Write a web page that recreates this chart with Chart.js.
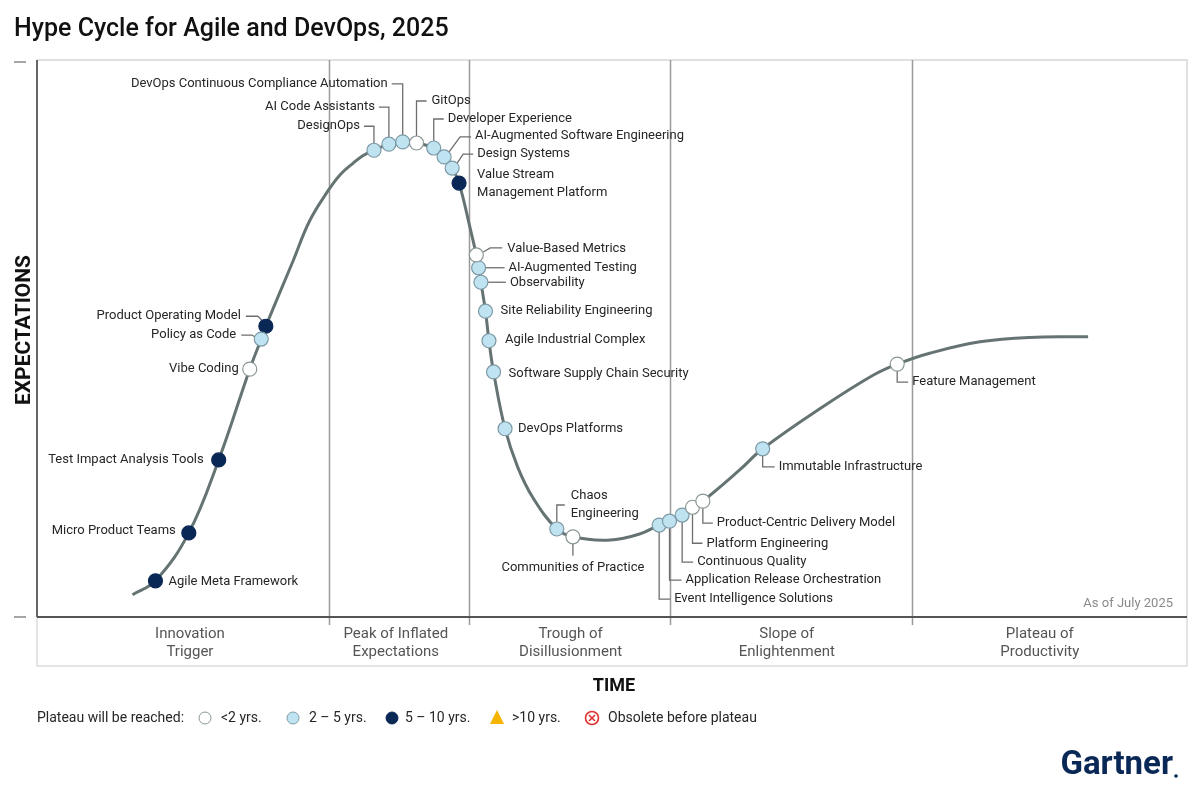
<!DOCTYPE html>
<html>
<head>
<meta charset="utf-8">
<script src="https://cdn.jsdelivr.net/npm/chart.js@4.4.1/dist/chart.umd.min.js"></script>
<style>
  html, body { margin: 0; background: #fff; }
  canvas { display: block; }
</style>
</head>
<body>
<canvas id="hypeChart" width="1200" height="791"></canvas>
<script>
// Phases of the hype cycle (time axis 0-100)
const phaseNames = [['Innovation', 'Trigger'], ['Peak of Inflated', 'Expectations'], ['Trough of', 'Disillusionment'], ['Slope of', 'Enlightenment'], ['Plateau of', 'Productivity']];
const phaseEdges = [25.4, 37.6, 55.0, 76.1];
const phaseLabelTime = [13.3, 31.2, 46.4, 65.2, 87.2];

// The curve itself (time, expectations)
const curveTime = [8.3, 10.3, 13.2, 15.8, 18.5, 19.5, 19.9, 22.3, 23.7, 25.3, 26.4, 27.5, 28.4, 29.3, 30.6, 31.8, 33.0, 34.5, 35.4, 36.1, 36.7, 37.7, 38.2, 38.4, 38.6, 39.0, 39.3, 39.7, 40.7, 41.8, 43.1, 45.2, 46.6, 49.6, 52.4, 54.1, 55.0, 56.1, 57.0, 57.9, 61.1, 63.1, 68.3, 72.7, 74.8, 77.7, 82.0, 86.3, 91.4];
const curveExpect = [4.0, 6.5, 15.1, 28.2, 44.5, 49.9, 52.2, 64.1, 71.1, 76.5, 79.5, 81.5, 82.9, 83.8, 84.9, 85.3, 85.1, 84.2, 82.6, 80.6, 77.9, 69.5, 65.0, 62.7, 60.1, 54.9, 49.6, 44.0, 33.8, 26.9, 21.5, 15.8, 14.4, 13.8, 14.9, 16.5, 17.2, 18.3, 19.7, 20.8, 26.4, 30.2, 37.7, 43.4, 45.4, 47.4, 49.4, 50.2, 50.3];

// Technologies on the curve
const itemNames = [
  'Agile Meta Framework', 'Micro Product Teams', 'Test Impact Analysis Tools', 'Vibe Coding', 'Policy as Code',
  'Product Operating Model', 'DesignOps', 'AI Code Assistants', 'DevOps Continuous Compliance Automation', 'GitOps',
  'Developer Experience', 'AI-Augmented Software Engineering', 'Design Systems', 'Value Stream|Management Platform', 'Value-Based Metrics',
  'AI-Augmented Testing', 'Observability', 'Site Reliability Engineering', 'Agile Industrial Complex', 'Software Supply Chain Security',
  'DevOps Platforms', 'Chaos|Engineering', 'Communities of Practice', 'Event Intelligence Solutions', 'Application Release Orchestration',
  'Continuous Quality', 'Platform Engineering', 'Product-Centric Delivery Model', 'Immutable Infrastructure', 'Feature Management'
];
const itemTime = [10.3, 13.2, 15.8, 18.5, 19.5, 19.9, 29.3, 30.6, 31.8, 33.0, 34.5, 35.4, 36.1, 36.7, 38.2, 38.4, 38.6, 39.0, 39.3, 39.7, 40.7, 45.2, 46.6, 54.1, 55.0, 56.1, 57.0, 57.9, 63.1, 74.8];
const itemExpect = [6.5, 15.1, 28.2, 44.5, 49.9, 52.2, 83.8, 84.9, 85.3, 85.1, 84.2, 82.6, 80.6, 77.9, 65.0, 62.7, 60.1, 54.9, 49.6, 44.0, 33.8, 15.8, 14.4, 16.5, 17.2, 18.3, 19.7, 20.8, 30.2, 45.4];
// years to plateau: 'lt2', 'mid' (2-5), 'long' (5-10)
const itemPlateau = ['long', 'long', 'long', 'lt2', 'mid', 'long', 'mid', 'mid', 'mid', 'lt2', 'mid', 'mid', 'mid', 'long', 'lt2', 'mid', 'mid', 'mid', 'mid', 'mid', 'mid', 'mid', 'lt2', 'mid', 'mid', 'mid', 'lt2', 'lt2', 'mid', 'lt2'];

// label placement in pixels relative to the marker (layout only)
const labelLayout = [
  { dx: 13, dy: 1, align: 'left' },
  { dx: -13, dy: -2, align: 'right' },
  { dx: -15, dy: 0, align: 'right' },
  { dx: -11, dy: 0, align: 'right' },
  { dx: -25, dy: -4, align: 'right', lead: [[-20, -4], [-9, -4], [-5, -1]] },
  { dx: -25, dy: -10, align: 'right', lead: [[-20, -10], [-8, -10], [-4, -6]] },
  { dx: -14, dy: -24, align: 'right', lead: [[-10, -24], [0, -24], [0, -7]] },
  { dx: -14, dy: -37, align: 'right', lead: [[-10, -37], [0, -37], [0, -7]] },
  { dx: -15, dy: -58, align: 'right', lead: [[-11, -58], [0, -58], [0, -7]] },
  { dx: 15, dy: -42, align: 'left', lead: [[0, -7], [0, -42], [10, -42]] },
  { dx: 14, dy: -29, align: 'left', lead: [[0, -7], [0, -29], [10, -29]] },
  { dx: 31, dy: -21, align: 'left', lead: [[5, -5], [16, -20], [27, -20]] },
  { dx: 25, dy: -14, align: 'left', lead: [[5, -5], [11, -14], [21, -14]] },
  { dx: 18, dy: -8, align: 'left' },
  { dx: 31, dy: -6, align: 'left', lead: [[7, -3], [14, -7], [26, -7]] },
  { dx: 30, dy: 0, align: 'left', lead: [[7, 0], [26, 0]] },
  { dx: 29, dy: 1, align: 'left', lead: [[7, 0], [25, 0]] },
  { dx: 15, dy: 0, align: 'left' },
  { dx: 16, dy: -1, align: 'left' },
  { dx: 15, dy: 2, align: 'left' },
  { dx: 13, dy: 0, align: 'left' },
  { dx: 14, dy: -33, align: 'left', lead: [[0, -7], [0, -24], [8, -24]] },
  { dx: 0, dy: 31, align: 'center', lead: [[0, 7], [0, 19]] },
  { dx: 15, dy: 74, align: 'left', lead: [[0, 7], [0, 74], [11, 74]] },
  { dx: 16, dy: 59, align: 'left', lead: [[0, 7], [0, 59], [12, 59]] },
  { dx: 15, dy: 47, align: 'left', lead: [[0, 7], [0, 47], [11, 47]] },
  { dx: 14, dy: 36, align: 'left', lead: [[0, 7], [0, 36], [10, 36]] },
  { dx: 14, dy: 22, align: 'left', lead: [[0, 7], [0, 22], [10, 22]] },
  { dx: 16, dy: 18, align: 'left', lead: [[0, 7], [0, 18], [12, 18]] },
  { dx: 15, dy: 18, align: 'left', lead: [[0, 7], [0, 18], [11, 18]] }
];

const plateauStyle = {
  lt2: { fill: '#ffffff', border: '#8a9696', label: '<2 yrs.' },
  mid: { fill: '#bfe3f1', border: '#7d9aa6', label: '2 \u2013 5 yrs.' },
  long: { fill: '#0a2856', border: '#0a2856', label: '5 \u2013 10 yrs.' }
};

const FONT = 'Roboto, "Noto Sans", sans-serif';

function markerData(kind) {
  const pts = [];
  itemNames.forEach((n, i) => {
    if (itemPlateau[i] === kind) pts.push({ x: itemTime[i], y: itemExpect[i], idx: i });
  });
  return pts;
}

const hypeDecor = {
  id: 'hypeDecor',
  beforeDatasetsDraw(chart) {
    const { ctx, chartArea: a, scales: { x, y } } = chart;
    ctx.save();
    // frame
    ctx.strokeStyle = '#d6d6d6';
    ctx.lineWidth = 1.5;
    ctx.beginPath();
    ctx.moveTo(a.left, a.top); ctx.lineTo(a.right, a.top); ctx.lineTo(a.right, a.bottom);
    ctx.stroke();
    // phase band below the plot
    ctx.strokeStyle = '#dcdcdc';
    ctx.strokeRect(a.left, a.bottom, a.right - a.left, 49);
    // phase dividers
    ctx.strokeStyle = '#9a9a9a';
    ctx.lineWidth = 1.5;
    phaseEdges.forEach(t => {
      const px = Math.round(x.getPixelForValue(t)) + 0.5;
      ctx.beginPath(); ctx.moveTo(px, a.top); ctx.lineTo(px, a.bottom + 8); ctx.stroke();
    });
    // left and bottom axis lines
    ctx.strokeStyle = '#333';
    ctx.lineWidth = 1.5;
    ctx.beginPath(); ctx.moveTo(a.left, a.top); ctx.lineTo(a.left, a.bottom); ctx.stroke();
    ctx.strokeStyle = '#555';
    ctx.lineWidth = 2;
    ctx.beginPath(); ctx.moveTo(a.left, a.bottom); ctx.lineTo(a.right, a.bottom); ctx.stroke();
    // little ticks at the left
    ctx.strokeStyle = '#888';
    ctx.lineWidth = 1.5;
    [a.top + 2, a.bottom].forEach(py => {
      ctx.beginPath(); ctx.moveTo(14, py); ctx.lineTo(26, py); ctx.stroke();
    });
    // leader lines
    ctx.strokeStyle = '#6e6e6e';
    ctx.lineWidth = 1.3;
    itemNames.forEach((n, i) => {
      const L = labelLayout[i];
      if (!L.lead) return;
      const px = x.getPixelForValue(itemTime[i]);
      const py = y.getPixelForValue(itemExpect[i]);
      ctx.beginPath();
      L.lead.forEach((p, k) => {
        const fx = px + p[0], fy = py + p[1];
        if (k === 0) ctx.moveTo(fx, fy); else ctx.lineTo(fx, fy);
      });
      ctx.stroke();
    });
    ctx.restore();
  },
  afterDatasetsDraw(chart) {
    const { ctx, chartArea: a, scales: { x, y } } = chart;
    ctx.save();
    // point labels
    ctx.font = '13px ' + FONT;
    ctx.fillStyle = '#262626';
    ctx.textBaseline = 'middle';
    itemNames.forEach((n, i) => {
      const L = labelLayout[i];
      const px = x.getPixelForValue(itemTime[i]);
      const py = y.getPixelForValue(itemExpect[i]);
      ctx.textAlign = L.align;
      n.split('|').forEach((line, k) => ctx.fillText(line, px + L.dx, py + L.dy + k * 18));
    });
    // as-of note
    ctx.font = '13px ' + FONT;
    ctx.fillStyle = '#8a8a8a';
    ctx.textAlign = 'right';
    ctx.fillText('As of July 2025', a.right - 14, a.bottom - 13);
    // phase labels
    ctx.font = '15px ' + FONT;
    ctx.fillStyle = '#555';
    ctx.textAlign = 'center';
    phaseNames.forEach((pn, i) => {
      const px = x.getPixelForValue(phaseLabelTime[i]);
      pn.forEach((line, k) => ctx.fillText(line, px, a.bottom + 17 + k * 18));
    });
    // axis titles
    ctx.fillStyle = '#111';
    ctx.font = 'bold 18px ' + FONT;
    ctx.fillText('TIME', (a.left + a.right) / 2 + 2, 686);
    ctx.save();
    ctx.translate(25, 330);
    ctx.rotate(-Math.PI / 2);
    ctx.font = 'bold 21px ' + FONT;
    ctx.fillText('EXPECTATIONS', 0, 0);
    ctx.restore();
    // title
    ctx.textAlign = 'left';
    ctx.font = '500 25px ' + FONT;
    ctx.fillStyle = '#111';
    ctx.fillText('Hype Cycle for Agile and DevOps, 2025', 14, 30);
    // legend
    const ly = 718;
    ctx.font = '14px ' + FONT;
    ctx.fillStyle = '#262626';
    ctx.fillText('Plateau will be reached:', 37, ly);
    const dot = (cx, s) => {
      ctx.beginPath(); ctx.arc(cx, ly, 6, 0, Math.PI * 2);
      ctx.fillStyle = s.fill; ctx.fill();
      ctx.strokeStyle = s.border; ctx.lineWidth = 1; ctx.stroke();
    };
    dot(205, plateauStyle.lt2);
    ctx.fillStyle = '#262626'; ctx.fillText(plateauStyle.lt2.label, 221, ly);
    dot(293, plateauStyle.mid);
    ctx.fillStyle = '#262626'; ctx.fillText(plateauStyle.mid.label, 309, ly);
    dot(392, plateauStyle.long);
    ctx.fillStyle = '#262626'; ctx.fillText(plateauStyle.long.label, 405, ly);
    ctx.beginPath(); ctx.moveTo(497, ly - 8); ctx.lineTo(504, ly + 6); ctx.lineTo(490, ly + 6); ctx.closePath();
    ctx.fillStyle = '#f4b400'; ctx.fill();
    ctx.fillStyle = '#262626'; ctx.fillText('>10 yrs.', 512, ly);
    ctx.beginPath(); ctx.arc(592, ly, 6.5, 0, Math.PI * 2);
    ctx.strokeStyle = '#e0312e'; ctx.lineWidth = 1.6; ctx.stroke();
    ctx.beginPath();
    ctx.moveTo(589, ly - 3); ctx.lineTo(595, ly + 3); ctx.moveTo(595, ly - 3); ctx.lineTo(589, ly + 3);
    ctx.stroke();
    ctx.fillStyle = '#262626'; ctx.fillText('Obsolete before plateau', 608, ly);
    // logo
    ctx.font = 'bold 33px ' + FONT;
    ctx.fillStyle = '#0a2856';
    ctx.textAlign = 'right';
    ctx.fillText('Gartner', 1173, 766);
    ctx.beginPath(); ctx.arc(1176, 776, 1.8, 0, Math.PI * 2); ctx.fill();
    ctx.restore();
  }
};

const ctx = document.getElementById('hypeChart').getContext('2d');
new Chart(ctx, {
  type: 'scatter',
  data: {
    datasets: [
      {
        type: 'line',
        label: 'Hype curve',
        data: curveTime.map((t, i) => ({ x: t, y: curveExpect[i] })),
        borderColor: '#667373',
        borderWidth: 3,
        pointRadius: 0,
        tension: 0.4,
        fill: false,
        order: 2
      },
      ...['lt2', 'mid', 'long'].map(k => ({
        label: plateauStyle[k].label,
        data: markerData(k),
        backgroundColor: plateauStyle[k].fill,
        borderColor: plateauStyle[k].border,
        borderWidth: 1.2,
        pointRadius: 7,
        order: 1
      }))
    ]
  },
  options: {
    responsive: false,
    animation: false,
    layout: { padding: { left: 37, right: 13, top: 60, bottom: 174 } },
    scales: {
      x: { type: 'linear', min: 0, max: 100, display: false },
      y: { type: 'linear', min: 0, max: 100, display: false }
    },
    plugins: { legend: { display: false }, tooltip: { enabled: false } }
  },
  plugins: [hypeDecor]
});
</script>
</body>
</html>
